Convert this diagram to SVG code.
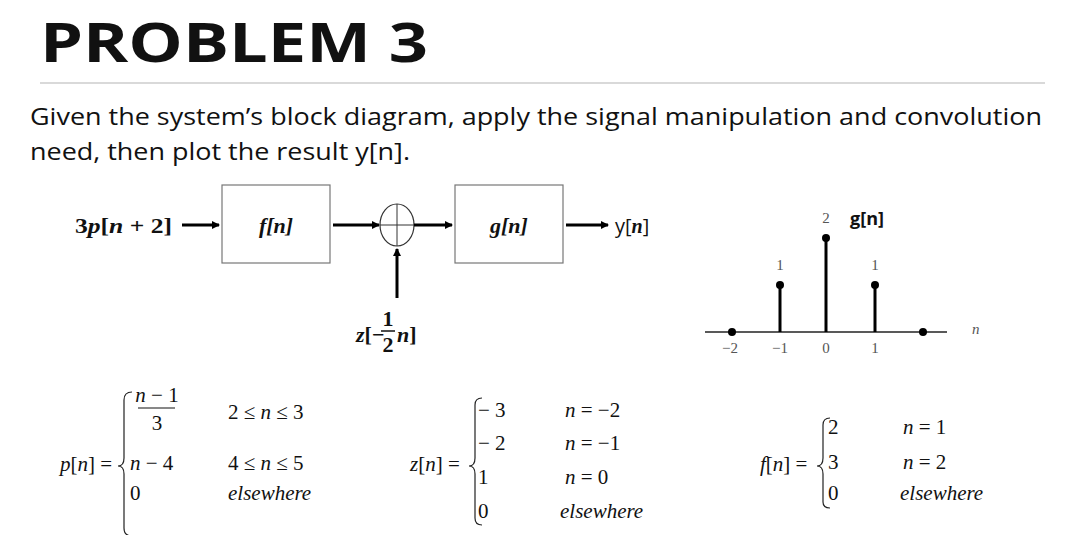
<svg xmlns="http://www.w3.org/2000/svg" width="1079" height="535" viewBox="0 0 1079 535">
<defs>
<marker id="ah" markerWidth="8" markerHeight="8" refX="7" refY="4" orient="auto" markerUnits="userSpaceOnUse"><path d="M0,0 L8,4 L0,8 z" fill="#000"/></marker>
<style>
.t{font-family:"Open Sans","Liberation Sans",sans-serif;fill:#111}
.m{font-family:"Liberation Serif",serif;font-size:21px;fill:#111}
.mi{font-family:"Liberation Serif",serif;font-size:21px;font-style:italic;fill:#111}
.mb{font-family:"Liberation Serif",serif;font-size:22px;font-weight:bold;fill:#111}
.box{fill:#fff;stroke:#777;stroke-width:1.2}
.c{stroke:#000;stroke-width:3;fill:none}
.br{fill:none;stroke:#222;stroke-width:1.2}
.g{font-family:"Liberation Serif",serif;font-size:15px;fill:#555}
</style>
</defs>
<rect width="1079" height="535" fill="#fff"/>
<text class="t" x="40" y="62" font-size="54" font-weight="bold" textLength="388" lengthAdjust="spacingAndGlyphs">PROBLEM 3</text>
<line x1="40" y1="83" x2="1045" y2="83" stroke="#ccc" stroke-width="1.5"/>
<text class="t" x="30" y="125" font-size="24" textLength="1012" lengthAdjust="spacingAndGlyphs">Given the system’s block diagram, apply the signal manipulation and convolution</text>
<text class="t" x="30" y="160" font-size="24" textLength="380" lengthAdjust="spacingAndGlyphs">need, then plot the result y[n].</text>

<g id="input"><text class="mb" x="75" y="233" textLength="97" lengthAdjust="spacingAndGlyphs"><tspan>3</tspan><tspan font-style="italic">p</tspan><tspan>[</tspan><tspan font-style="italic">n</tspan><tspan> + 2]</tspan></text></g>
<g id="f"><rect class="box" x="222" y="185" width="108" height="78"/><text class="mb" x="276" y="233" text-anchor="middle" font-style="italic">f[n]</text></g>
<g id="sum"><ellipse cx="397" cy="225" rx="17" ry="21" fill="#fff" stroke="#333" stroke-width="1.2"/><line x1="380" y1="225" x2="414" y2="225" stroke="#333"/><line x1="397" y1="204" x2="397" y2="246" stroke="#333"/></g>
<g id="g"><rect class="box" x="455" y="185" width="108" height="78"/><text class="mb" x="509" y="233" text-anchor="middle" font-style="italic">g[n]</text></g>
<g id="output"><text class="t" x="615" y="233" font-size="20">y[<tspan font-family="Liberation Serif" font-style="italic" font-weight="bold">n</tspan>]</text></g>
<g id="zin"><text class="mb" x="356" y="342"><tspan font-style="italic">z</tspan>[−</text><text class="mb" x="388" y="326" font-size="19" text-anchor="middle">1</text><line x1="381" y1="331" x2="395" y2="331" stroke="#111" stroke-width="1.5"/><text class="mb" x="388" y="352" font-size="19" text-anchor="middle">2</text><text class="mb" x="397" y="342"><tspan font-style="italic">n</tspan>]</text></g>
<g id="connectors">
<line class="c" x1="182" y1="225" x2="219" y2="225" marker-end="url(#ah)"/>
<line class="c" x1="333" y1="225" x2="379" y2="225" marker-end="url(#ah)"/>
<line class="c" x1="414" y1="225" x2="452" y2="225" marker-end="url(#ah)"/>
<line class="c" x1="566" y1="225" x2="608" y2="225" marker-end="url(#ah)"/>
<line class="c" x1="397" y1="298" x2="397" y2="249" marker-end="url(#ah)"/>
</g>

<g id="gplot">
<line x1="705" y1="332" x2="947" y2="332" stroke="#222" stroke-width="1.5"/>
<line x1="780" y1="332" x2="780" y2="285" stroke="#000" stroke-width="3"/>
<line x1="826" y1="332" x2="826" y2="238" stroke="#000" stroke-width="3"/>
<line x1="875" y1="332" x2="875" y2="285" stroke="#000" stroke-width="3"/>
<circle cx="732" cy="332" r="4" fill="#000"/><circle cx="923" cy="332" r="4" fill="#000"/>
<circle cx="780" cy="285" r="4" fill="#000"/><circle cx="826" cy="238" r="4" fill="#000"/><circle cx="875" cy="285" r="4" fill="#000"/>
<text class="g" x="826" y="223" text-anchor="middle">2</text>
<text class="t" x="850" y="225" font-size="18" font-weight="bold">g[n]</text>
<text class="g" x="780" y="270" text-anchor="middle">1</text>
<text class="g" x="875" y="270" text-anchor="middle">1</text>
<text class="g" x="730" y="353" text-anchor="middle">−2</text>
<text class="g" x="780" y="353" text-anchor="middle">−1</text>
<text class="g" x="826" y="353" text-anchor="middle">0</text>
<text class="g" x="875" y="353" text-anchor="middle">1</text>
<text class="g" x="972" y="334" font-style="italic">n</text>
</g>

<g id="peq">
<text class="m" x="60" y="471"><tspan font-style="italic">p</tspan>[<tspan font-style="italic">n</tspan>] =</text>
<path class="br" d="M132,392 Q124,392 124,400 L124,458 Q124,466 118,466 Q124,466 124,474 L124,528 Q124,536 132,536"/>
<text class="m" x="157" y="402" text-anchor="middle"><tspan font-style="italic">n</tspan> − 1</text>
<line x1="138" y1="408" x2="175" y2="408" stroke="#111"/>
<text class="m" x="157" y="430" text-anchor="middle">3</text>
<text class="m" x="228" y="419">2 ≤ <tspan font-style="italic">n</tspan> ≤ 3</text>
<text class="m" x="130" y="470"><tspan font-style="italic">n</tspan> − 4</text>
<text class="m" x="228" y="470">4 ≤ <tspan font-style="italic">n</tspan> ≤ 5</text>
<text class="m" x="130" y="500">0</text>
<text class="mi" x="228" y="500">elsewhere</text>
</g>
<g id="zeq">
<text class="m" x="410" y="471"><tspan font-style="italic">z</tspan>[<tspan font-style="italic">n</tspan>] =</text>
<path class="br" d="M482,398 Q475,398 475,405 L475,458 Q475,466 469,466 Q475,466 475,474 L475,518 Q475,525 482,525"/>
<text class="m" x="478" y="417">− 3</text>
<text class="m" x="478" y="450">− 2</text>
<text class="m" x="478" y="484">1</text>
<text class="m" x="478" y="518">0</text>
<text class="m" x="565" y="417"><tspan font-style="italic">n</tspan> = −2</text>
<text class="m" x="565" y="450"><tspan font-style="italic">n</tspan> = −1</text>
<text class="m" x="565" y="484"><tspan font-style="italic">n</tspan> = 0</text>
<text class="mi" x="560" y="518">elsewhere</text>
</g>
<g id="feq">
<text class="m" x="760" y="471"><tspan font-style="italic">f</tspan>[<tspan font-style="italic">n</tspan>] =</text>
<path class="br" d="M830,418 Q823,418 823,425 L823,458 Q823,466 817,466 Q823,466 823,474 L823,502 Q823,508 830,508"/>
<text class="m" x="828" y="434">2</text>
<text class="m" x="828" y="469">3</text>
<text class="m" x="828" y="500">0</text>
<text class="m" x="903" y="434"><tspan font-style="italic">n</tspan> = 1</text>
<text class="m" x="903" y="469"><tspan font-style="italic">n</tspan> = 2</text>
<text class="mi" x="900" y="500">elsewhere</text>
</g>
</svg>
